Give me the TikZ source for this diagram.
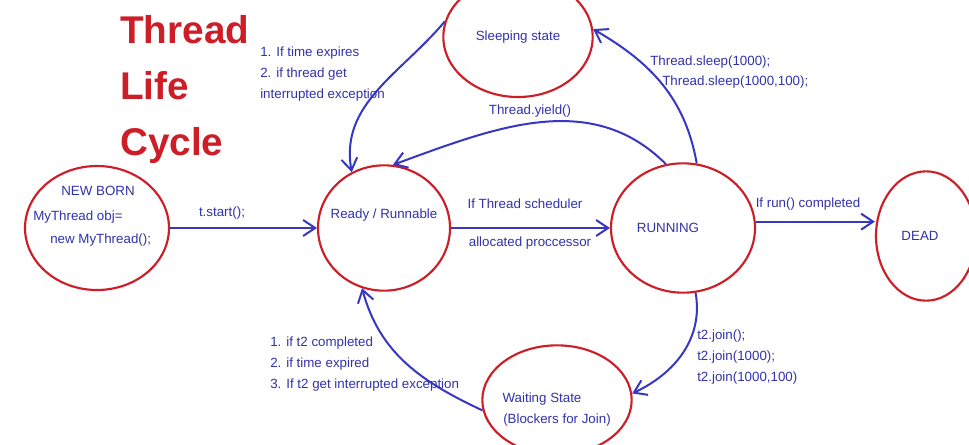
\documentclass[tikz,border=0pt]{standalone}
\usepackage{fontspec}
\setmainfont{Liberation Sans}
\usetikzlibrary{shapes.geometric,arrows.meta}
\definecolor{sred}{RGB}{205,30,40}
\definecolor{sblue}{RGB}{55,55,195}
\definecolor{tblue}{RGB}{50,50,170}
\tikzset{
  st/.style={ellipse,draw=sred,line width=1.6pt,inner sep=0pt},
  conn/.style={draw=sblue,line width=1.5pt,-{Straight Barb[length=9pt,width=12pt,line width=1.5pt]}},
  lbl/.style={text=tblue,font=\fontsize{10}{12}\selectfont,inner sep=0pt},
}
\begin{document}
\begin{tikzpicture}[x=0.75pt,y=-0.75pt]
\useasboundingbox (0,0) rectangle (969,444);
\clip (0,0) rectangle (969,444);
\fill[white] (0,0) rectangle (969,444);
\node[st,minimum width=108pt,minimum height=93pt] (nb) at (97,228) {};
\node[st,minimum width=99pt,minimum height=94pt] (rd) at (384,228) {};
\node[st,minimum width=108pt,minimum height=97pt] (rn) at (683,228) {};
\node[st,minimum width=75pt,minimum height=97pt] (dd) at (926,236) {};
\node[st,minimum width=112pt,minimum height=90pt] (sl) at (518,37) {};
\node[st,minimum width=112pt,minimum height=82pt] (wt) at (557,400) {};
\node[text=sred,font=\bfseries\fontsize{29}{42}\selectfont,align=left,anchor=north west,inner sep=0pt] (title) at (120,15) {Thread\\Life\\Cycle};
\node[lbl] (t1) at (98,191) {NEW BORN};
\node[lbl,anchor=west] (t2) at (33,217) {MyThread obj=};
\node[lbl,anchor=west] (t3) at (50,240) {new MyThread();};
\node[lbl] (t4) at (384,215) {Ready / Runnable};
\node[lbl] (t5) at (668,228) {RUNNING};
\node[lbl] (t6) at (920,236) {DEAD};
\node[lbl] (t7) at (518,37) {Sleeping state};
\node[lbl] (t8) at (542,399) {Waiting State};
\node[lbl] (t9) at (557,420) {(Blockers for Join)};
\draw[conn] (nb.east) -- (rd.west);
\draw[conn] (rd.east) -- (rn.west);
\draw[conn] (rn.5) -- (dd.west |- rn.5);
\draw[conn] (rn.78) to[out=100,in=-30] (sl.6);
\draw[conn] (sl.168) to[out=230,in=100] (rd.120);
\draw[conn] (rn.105) to[out=135,in=20] (rd.82);
\draw[conn] (rn.-79) to[out=-80,in=25] (wt.5);
\draw[conn] (wt.188) to[out=155,in=-75] (rd.250);
\node[lbl] (l1) at (222,213) {t.start();};
\node[lbl] (l2) at (525,204) {If Thread scheduler};
\node[lbl] (l3) at (530,243) {allocated proccessor};
\node[lbl] (l4) at (808,204) {If run() completed};
\node[lbl,anchor=west] (l5) at (650,62) {Thread.sleep(1000);};
\node[lbl,anchor=west] (l6) at (662,82) {Thread.sleep(1000,100);};
\node[lbl] (l7) at (530,111) {Thread.yield()};
\node[lbl,anchor=west,align=left] (l8) at (260,74) {1. If time expires\\[4pt]2. if thread get\\[4pt]interrupted exception};
\node[lbl,anchor=west,align=left] (l9) at (697,357) {t2.join();\\[4pt]t2.join(1000);\\[4pt]t2.join(1000,100)};
\node[lbl,anchor=west,align=left] (l10) at (270,364) {1. if t2 completed\\[4pt]2. if time expired\\[4pt]3. If t2 get interrupted exception};
\end{tikzpicture}
\end{document}
